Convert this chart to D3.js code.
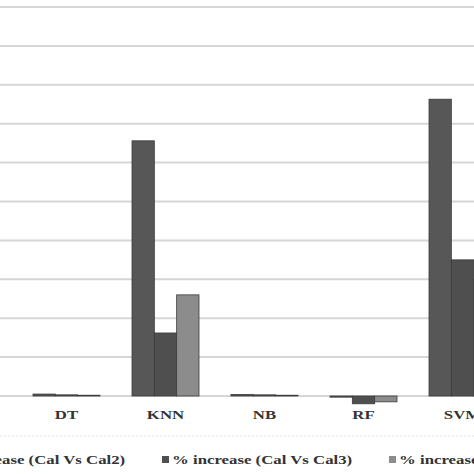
<!DOCTYPE html>
<html>
<head>
<meta charset="utf-8">
<script src="https://cdn.jsdelivr.net/npm/d3@7"></script>
<style>
  body { margin: 0; background: #fff; }
  svg { display: block; font-family: "Liberation Serif", "DejaVu Serif", serif; }
</style>
</head>
<body>
<svg id="chart" width="474" height="474"></svg>
<script>
// chart data
let models = ["DT", "KNN", "NB", "RF", "SVM"];
let seriesNames = ["% increase (Cal Vs Cal2)", "% increase (Cal Vs Cal3)", "% increase (Cal Vs Cal4)"];
let cal2 = [0.5, 65.6, 0.4, -0.3, 76.3];
let cal3 = [0.3, 16.2, 0.3, -2.0, 35.0];
let cal4 = [0.2, 26.0, 0.2, -1.5, 30.0];
let yTicks = [0, 10, 20, 30, 40, 50, 60, 70, 80, 90, 100];

let colors = ["#575757", "#4f4f4f", "#8c8c8c"];
let stretch = 1.4; // the source picture is stretched sideways

let svg = d3.select("#chart");

let xscale = d3.scaleBand(models, [17, 512]).paddingInner(0.3232).paddingOuter(0.1616);
let yscale = d3.scaleLinear([0, 100], [396, 7]);
let inner = d3.scaleBand([0, 1, 2], [0, xscale.bandwidth()]);

// gridlines
svg.selectAll(".grid")
    .data(yTicks)
    .enter()
    .append("line")
    .attr("class", "grid")
    .attr("x1", 0)
    .attr("x2", 474)
    .attr("y1", d => yscale(d))
    .attr("y2", d => yscale(d))
    .attr("stroke", "#d6d6d6")
    .attr("stroke-width", 2);

let rows = models.map((m, i) => ({ model: m, vals: [cal2[i], cal3[i], cal4[i]] }));

let groups = svg.selectAll(".grp")
    .data(rows)
    .enter()
    .append("g")
    .attr("class", "grp")
    .attr("transform", d => "translate(" + xscale(d.model) + ",0)");

groups.selectAll("rect")
    .data(d => d.vals.map((v, k) => ({ v: v, k: k })))
    .enter()
    .append("rect")
    .attr("x", d => inner(d.k))
    .attr("width", inner.bandwidth())
    .attr("y", d => yscale(Math.max(0, d.v)))
    .attr("height", d => Math.abs(yscale(d.v) - yscale(0)))
    .attr("fill", d => colors[d.k])
    .attr("stroke", "#3a3a3a")
    .attr("stroke-width", 0.8);

// category labels
svg.selectAll(".xlab")
    .data(models)
    .enter()
    .append("text")
    .attr("class", "xlab")
    .attr("transform", d => "translate(" + (xscale(d) + xscale.bandwidth() / 2) + ",419) scale(" + stretch + ",1)")
    .attr("text-anchor", "middle")
    .attr("font-size", 12)
    .attr("font-weight", "bold")
    .attr("fill", "#333")
    .text(d => d);

// faint separator above legend
svg.append("line")
    .attr("x1", 0).attr("x2", 474)
    .attr("y1", 436).attr("y2", 436)
    .attr("stroke", "#e2e2e2")
    .attr("stroke-dasharray", "2,2");

// legend
let leg = svg.selectAll(".leg")
    .data(seriesNames)
    .enter()
    .append("g")
    .attr("class", "leg")
    .attr("transform", (d, i) => "translate(" + (-65 + i * 227) + ",0)");

leg.append("rect")
    .attr("x", 0).attr("y", 456)
    .attr("width", 7).attr("height", 7)
    .attr("fill", (d, i) => colors[i]);

leg.append("text")
    .attr("transform", "translate(10,464) scale(" + stretch + ",1)")
    .attr("font-size", 12)
    .attr("font-weight", "bold")
    .attr("fill", "#333")
    .text(d => d);
</script>
</body>
</html>
